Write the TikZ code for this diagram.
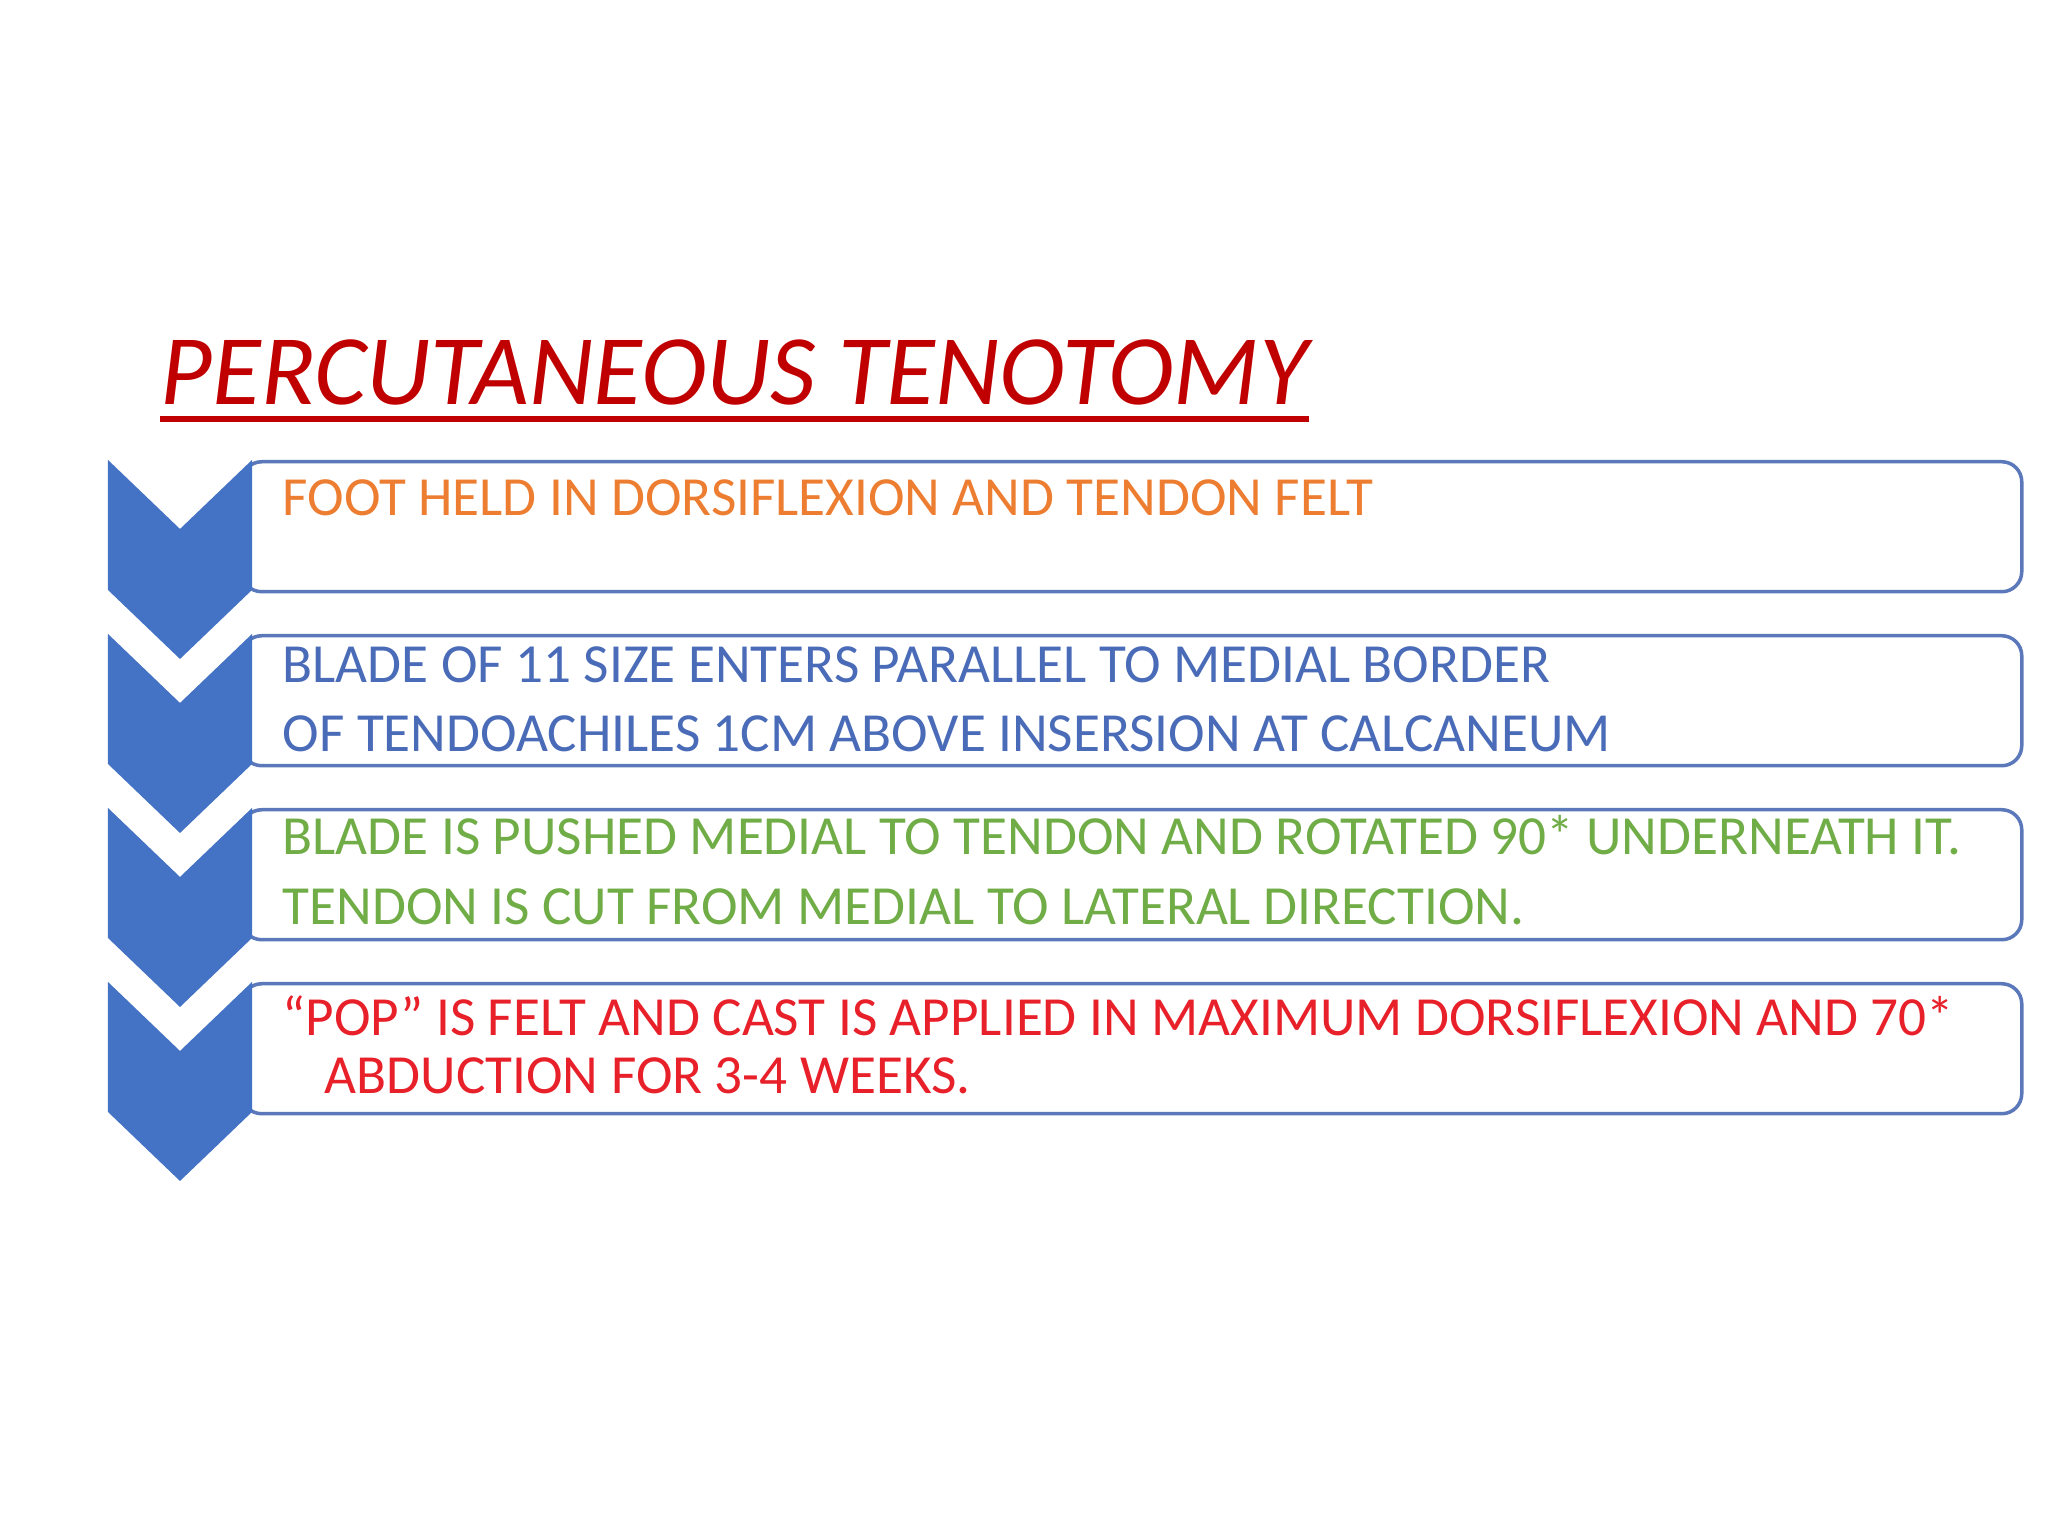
\documentclass[tikz,border=0pt]{standalone}
\usepackage{fontspec}
\setmainfont{Carlito}
\usetikzlibrary{calc}
\definecolor{titlered}{HTML}{C00000}
\definecolor{chevblue}{HTML}{4472C4}
\definecolor{lineblue}{HTML}{5A78BA}
\definecolor{steporange}{HTML}{ED7D31}
\definecolor{stepblue}{HTML}{4A6CB8}
\definecolor{stepgreen}{HTML}{70AD47}
\definecolor{stepred}{HTML}{E8202A}
\tikzset{
    chevron/.style = {
        fill=chevblue,
        draw=none,
    },
    stepbox/.style = {
        draw=lineblue,
        line width=1pt,
        fill=white,
        rounded corners=0.2cm,
        minimum width=17.80cm,
        minimum height=1.30cm,
        anchor=north west,
        inner sep=0pt,
    },
    steptext/.style = {
        anchor=base west,
        inner sep=0pt,
        font=\fontsize{15.7}{18}\selectfont,
    }
}

\begin{document}
\begin{tikzpicture}
  \useasboundingbox (0, 0) rectangle (20.48, 15.36);

  % tops of the four steps
  \coordinate (StepA) at (2.40, 10.76);
  \coordinate (StepB) at (2.40, 9.02);
  \coordinate (StepC) at (2.40, 7.28);
  \coordinate (StepD) at (2.40, 5.54);

  % title
  \node[anchor=base west, inner sep=0pt, text=titlered, font=\fontsize{28.4}{34}\selectfont\itshape] (title) at (1.60, 11.31) {PERCUTANEOUS TENOTOMY};
  \draw[titlered, line width=1.5pt] ($(title.base west)+(0, -0.14)$) -- ($(title.base east)+(0, -0.14)$);

  % boxes
  \node[stepbox] (boxA) at (StepA) {};
  \node[stepbox] (boxB) at (StepB) {};
  \node[stepbox] (boxC) at (StepC) {};
  \node[stepbox] (boxD) at (StepD) {};

  % chevrons
  \fill[chevron] ($(StepA)+(-1.32, 0)$) -- ++(0.72, -0.69) -- ++(0.72, 0.69) -- ++(0, -1.30) -- ++(-0.72, -0.69) -- ++(-0.72, 0.69) -- cycle;
  \fill[chevron] ($(StepB)+(-1.32, 0)$) -- ++(0.72, -0.69) -- ++(0.72, 0.69) -- ++(0, -1.30) -- ++(-0.72, -0.69) -- ++(-0.72, 0.69) -- cycle;
  \fill[chevron] ($(StepC)+(-1.32, 0)$) -- ++(0.72, -0.69) -- ++(0.72, 0.69) -- ++(0, -1.30) -- ++(-0.72, -0.69) -- ++(-0.72, 0.69) -- cycle;
  \fill[chevron] ($(StepD)+(-1.32, 0)$) -- ++(0.72, -0.69) -- ++(0.72, 0.69) -- ++(0, -1.30) -- ++(-0.72, -0.69) -- ++(-0.72, 0.69) -- cycle;

  % texts
  \node[steptext, text=steporange] (textA) at ($(boxA.north west)+(0.42, -0.56)$) {FOOT HELD IN DORSIFLEXION AND TENDON FELT};
  \node[steptext, text=stepblue] (textBa) at ($(boxB.north west)+(0.42, -0.49)$) {BLADE OF 11 SIZE ENTERS PARALLEL TO MEDIAL BORDER};
  \node[steptext, text=stepblue] (textBb) at ($(boxB.north west)+(0.42, -1.18)$) {OF TENDOACHILES 1CM ABOVE INSERSION AT CALCANEUM};
  \node[steptext, text=stepgreen] (textCa) at ($(boxC.north west)+(0.42, -0.47)$) {BLADE IS PUSHED MEDIAL TO TENDON AND ROTATED 90* UNDERNEATH IT.};
  \node[steptext, text=stepgreen] (textCb) at ($(boxC.north west)+(0.42, -1.17)$) {TENDON IS CUT FROM MEDIAL TO LATERAL DIRECTION.};
  \node[steptext, text=stepred] (textDa) at ($(boxD.north west)+(0.42, -0.54)$) {“POP” IS FELT AND CAST IS APPLIED IN MAXIMUM DORSIFLEXION AND 70*};
  \node[steptext, text=stepred] (textDb) at ($(boxD.north west)+(0.84, -1.12)$) {ABDUCTION FOR 3-4 WEEKS.};
\end{tikzpicture}
\end{document}
